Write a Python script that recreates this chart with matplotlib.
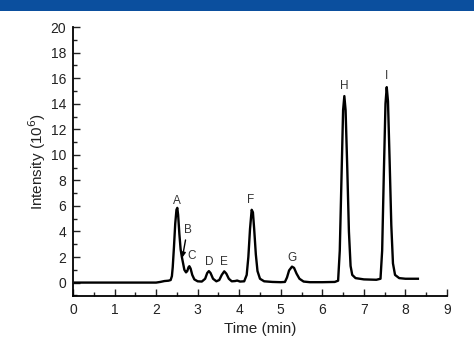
import matplotlib
matplotlib.use("Agg")
import matplotlib.pyplot as plt
from matplotlib.patches import Rectangle
from matplotlib.ticker import MultipleLocator

plt.rcParams["font.family"] = ["Liberation Sans", "DejaVu Sans"]

# chromatogram trace: time (min), intensity (10^6)
time = [0.05, 1.0, 2.0, 2.1, 2.2, 2.3, 2.35, 2.38,
        2.40, 2.43, 2.46, 2.49, 2.51, 2.53, 2.56, 2.59, 2.62, 2.65, 2.68, 2.72,
        2.75, 2.78, 2.80, 2.83, 2.87, 2.92, 3.0, 3.1, 3.18, 3.23, 3.27, 3.31,
        3.37, 3.45, 3.52, 3.58, 3.64, 3.69, 3.75, 3.82, 3.9, 3.95, 4.02, 4.12,
        4.18, 4.22, 4.26, 4.30, 4.33, 4.36, 4.40, 4.44, 4.50, 4.6, 4.8, 5.0,
        5.1, 5.15, 5.2, 5.27, 5.32, 5.38, 5.45, 5.55, 5.7, 6.0, 6.3, 6.38,
        6.42, 6.46, 6.50, 6.53, 6.56, 6.60, 6.64, 6.68, 6.72, 6.8, 7.0, 7.3,
        7.40, 7.44, 7.48, 7.52, 7.55, 7.58, 7.62, 7.66, 7.70, 7.75, 7.85, 8.0, 8.3]
intensity = [0.0, 0.0, 0.0, 0.05, 0.12, 0.15, 0.2, 0.5,
             1.2, 2.8, 4.6, 5.7, 5.85, 5.3, 3.8, 2.6, 2.0, 1.5, 1.0, 0.8,
             0.9, 1.2, 1.28, 1.1, 0.6, 0.25, 0.1, 0.08, 0.3, 0.75, 0.9, 0.75,
             0.3, 0.1, 0.2, 0.6, 0.88, 0.7, 0.3, 0.1, 0.12, 0.16, 0.08, 0.1,
             0.6, 2.0, 4.2, 5.7, 5.5, 4.2, 2.2, 0.9, 0.3, 0.1, 0.05, 0.03,
             0.05, 0.4, 0.95, 1.25, 1.15, 0.7, 0.3, 0.08, 0.03, 0.03, 0.05, 0.15,
             2.5, 8.0, 13.5, 14.6, 13.5, 9.0, 4.0, 1.3, 0.6, 0.35, 0.25, 0.22,
             0.3, 2.5, 8.5, 14.0, 15.3, 14.2, 9.5, 4.5, 1.5, 0.6, 0.35, 0.3, 0.3]

# peak labels and where they sit
peak_names = ["A", "B", "C", "D", "E", "F", "G", "H", "I"]
label_x = [2.51, 2.76, 2.85, 3.27, 3.64, 4.28, 5.27, 6.53, 7.55]
label_y = [6.35, 4.1, 2.1, 1.6, 1.6, 6.45, 1.95, 15.4, 16.2]

fig = plt.figure(figsize=(4.74, 3.59), dpi=100)
fig.patches.append(Rectangle((0, 1 - 11 / 359), 1, 11 / 359, transform=fig.transFigure,
                             facecolor="#0b4f9e", edgecolor="none"))
ax = fig.add_axes([0.154, 0.1755, 0.789, 0.749])

ax.plot(time, intensity, color="black", lw=1.7)

for name, x, y in zip(peak_names, label_x, label_y):
    ax.text(x, y, name, ha="center", va="center", fontsize=8.5, color="#333333")
ax.annotate("", xy=(2.62, 1.75), xytext=(2.72, 3.55),
            arrowprops=dict(arrowstyle="-|>", color="black", lw=1.0, mutation_scale=7))

ax.set_xlim(0, 9)
ax.set_ylim(-1.05, 20)
ax.xaxis.set_major_locator(MultipleLocator(1))
ax.xaxis.set_minor_locator(MultipleLocator(0.5))
ax.yaxis.set_major_locator(MultipleLocator(2))
ax.yaxis.set_minor_locator(MultipleLocator(1))
ax.tick_params(which="both", direction="in", width=1.0, labelsize=10, colors="#222222")
ax.tick_params(which="major", length=5, pad=5)
ax.tick_params(which="minor", length=3)
ax.spines[["top", "right"]].set_visible(False)
ax.spines[["left", "bottom"]].set_linewidth(1.3)

ax.set_xlabel("Time (min)", fontsize=11, color="#222222", labelpad=4)
ax.set_ylabel("Intensity (10$^6$)", fontsize=11, color="#222222", labelpad=2)

fig.savefig("out.png", dpi=100)
